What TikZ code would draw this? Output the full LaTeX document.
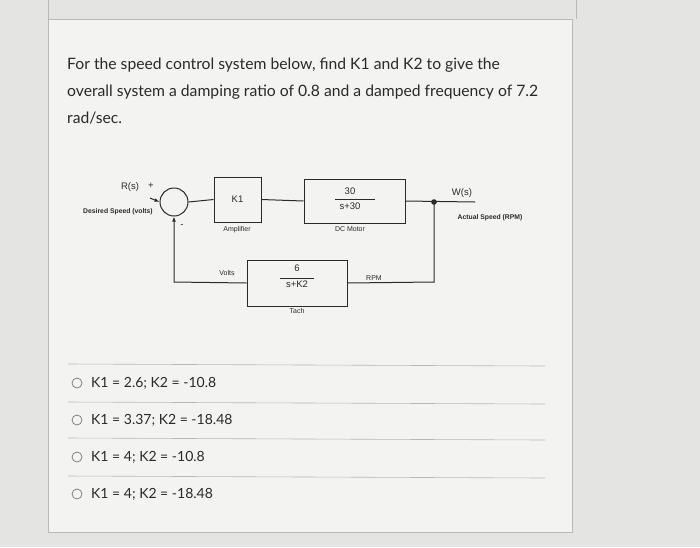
\documentclass[tikz,border=0pt]{standalone}
\usepackage{fontspec}
\setmainfont{Lato}
\newfontfamily\arial{Liberation Sans}
\usetikzlibrary{arrows.meta}
\definecolor{bg}{HTML}{E4E4E2}
\definecolor{card}{HTML}{F3F3F1}
\definecolor{ink}{HTML}{2A2A2A}
\definecolor{rule}{HTML}{B8B8B6}
\begin{document}
\begin{tikzpicture}[x=1pt,y=-1pt,
  blk/.style={draw=ink,line width=1pt,minimum width=#1,inner sep=0pt},
  lbl/.style={font=\arial\fontsize{7}{8}\selectfont,text=ink,inner sep=0pt},
  mid/.style={font=\arial\fontsize{9.5}{10}\selectfont,text=ink,inner sep=0pt},
  ln/.style={draw=ink,line width=1pt},
  opt/.style={font=\fontsize{14}{16}\selectfont,text=ink,anchor=west,inner sep=0pt},
  radio/.style={draw=gray,line width=0.8pt,circle,minimum size=10pt,inner sep=0pt},
  sep/.style={draw=rule,line width=0.6pt}]
\useasboundingbox (0,0) rectangle (700,547);
\fill[bg] (0,0) rectangle (700,547);
\fill[card,draw=rule,line width=0.8pt] (48,19) rectangle (572,532);
\draw[rule,line width=0.8pt] (48,-2) -- (48,19) (576,-2) -- (576,19);
% question
\node[anchor=north west,align=left,inner sep=0pt,font=\fontsize{15.7}{27}\selectfont,text=ink] (q) at (67,58)
 {For the speed control system below, find K1 and K2 to give the\\ overall system a damping ratio of 0.8 and a damped frequency of 7.2\\ rad/sec.};
% diagram
\node[draw=ink,line width=1pt,circle,minimum size=28pt,inner sep=0pt] (sum) at (174,202) {};
\node[blk=47pt,minimum height=45pt] (k1) at (237.5,199.5) {};
\node[mid] (k1t) at (237.5,199) {K1};
\node[blk=101pt,minimum height=44pt] (dc) at (354.5,201) {};
\node[mid] (n30) at (350,191) {30};
\node[mid] (d30) at (350,206) {s+30};
\draw[ln] (335,199) -- (375,199);
\node[blk=100pt,minimum height=46pt] (tach) at (297,283) {};
\node[mid] (n6) at (297,268) {6};
\node[mid] (dk2) at (297,284) {s+K2};
\draw[ln] (280,278) -- (314,278);
\node[lbl] (amp) at (237,230) {Amplifier};
\node[lbl] (dcm) at (350,229) {DC Motor};
\node[lbl] (tl) at (297,311) {Tach};
\coordinate (in) at (150,198);
\coordinate (j) at (434,202);
\coordinate (out) at (475,202);
\coordinate (br) at (434,282);
\coordinate (bl) at (174,282);
\draw[ln,-{Latex[length=5pt]}] (in) -- (sum.west);
\draw[ln] (sum.east) -- (k1.west);
\draw[ln] (k1.east) -- (dc.west);
\draw[ln] (dc.east) -- (out);
\fill[ink] (j) circle (2.8pt);
\draw[ln] (j) -- (br) -- (tach.east);
\draw[ln,-{Latex[length=5pt]}] (tach.west) -- (bl) -- (sum.south);
\node[mid] (rs) at (130,187) {R(s)};
\node[mid] (plus) at (151,186) {+};
\node[mid] (minus) at (182,226) {-};
\node[lbl,font=\arial\bfseries\fontsize{6.8}{7}\selectfont] (ds) at (118,212) {Desired Speed (volts)};
\node[mid] (ws) at (462,193) {W(s)};
\node[lbl,font=\arial\bfseries\fontsize{6.8}{7}\selectfont] (as) at (490,218) {Actual Speed (RPM)};
\node[lbl] (volts) at (227,273) {Volts};
\node[lbl] (rpm) at (374,278) {RPM};
% options
\draw[sep] (68,364) -- (545,366);
\draw[sep] (68,402) -- (545,404);
\draw[sep] (68,438) -- (545,440);
\draw[sep] (68,476) -- (545,478);
\node[radio] (r1) at (77,383) {};
\node[radio] (r2) at (77,420) {};
\node[radio] (r3) at (77,457) {};
\node[radio] (r4) at (77,494) {};
\node[opt] (o1) at (91,383) {K1 = 2.6; K2 = -10.8};
\node[opt] (o2) at (91,420) {K1 = 3.37; K2 = -18.48};
\node[opt] (o3) at (91,457) {K1 = 4; K2 = -10.8};
\node[opt] (o4) at (91,494) {K1 = 4; K2 = -18.48};
\end{tikzpicture}
\end{document}
